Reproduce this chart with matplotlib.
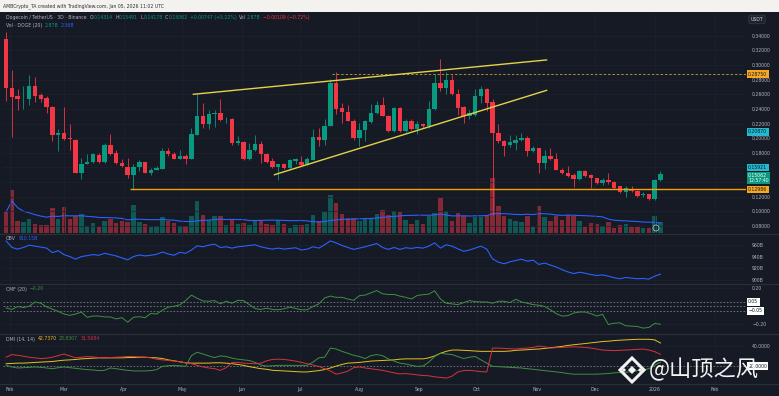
import matplotlib
matplotlib.use('Agg')
import matplotlib.pyplot as plt
import matplotlib.patches as patches
import matplotlib.dates as mdates
import numpy as np
import pandas as pd

# === Data (DOGE/USDT, 3D candles, Binance) ===
opens = [0.336, 0.268, 0.257, 0.253, 0.253, 0.272, 0.259, 0.255, 0.243, 0.204,
         0.207, 0.200, 0.198, 0.153, 0.165, 0.167, 0.177, 0.167, 0.190, 0.180,
         0.166, 0.161, 0.149, 0.160, 0.167, 0.153, 0.156, 0.158, 0.183, 0.179,
         0.172, 0.176, 0.172, 0.205, 0.231, 0.219, 0.233, 0.235, 0.226, 0.226,
         0.193, 0.195, 0.171, 0.184, 0.192, 0.178, 0.169, 0.161, 0.164, 0.159,
         0.169, 0.168, 0.164, 0.170, 0.201, 0.197, 0.217, 0.275, 0.241, 0.236,
         0.224, 0.200, 0.211, 0.222, 0.234, 0.245, 0.231, 0.210, 0.241, 0.210,
         0.224, 0.213, 0.220, 0.216, 0.240, 0.276, 0.268, 0.279, 0.261, 0.242,
         0.230, 0.232, 0.258, 0.267, 0.249, 0.207, 0.196, 0.190, 0.194, 0.197,
         0.200, 0.183, 0.186, 0.166, 0.176, 0.172, 0.157, 0.152, 0.149, 0.144,
         0.155, 0.149, 0.145, 0.139, 0.143, 0.140, 0.134, 0.126, 0.131, 0.128,
         0.122, 0.123, 0.117, 0.14314]
highs = [0.345, 0.293, 0.267, 0.271, 0.287, 0.284, 0.262, 0.257, 0.244, 0.212,
         0.242, 0.220, 0.199, 0.173, 0.178, 0.180, 0.180, 0.193, 0.206, 0.184,
         0.171, 0.173, 0.165, 0.170, 0.168, 0.159, 0.162, 0.187, 0.187, 0.181,
         0.184, 0.178, 0.214, 0.260, 0.248, 0.238, 0.238, 0.254, 0.229, 0.227,
         0.203, 0.196, 0.194, 0.205, 0.196, 0.180, 0.173, 0.165, 0.166, 0.172,
         0.173, 0.175, 0.174, 0.213, 0.214, 0.226, 0.281, 0.290, 0.248, 0.246,
         0.226, 0.221, 0.225, 0.247, 0.251, 0.256, 0.232, 0.242, 0.242, 0.226,
         0.226, 0.224, 0.221, 0.251, 0.288, 0.308, 0.290, 0.287, 0.267, 0.244,
         0.238, 0.267, 0.271, 0.269, 0.254, 0.219, 0.198, 0.205, 0.205, 0.207,
         0.203, 0.189, 0.187, 0.184, 0.187, 0.180, 0.159, 0.162, 0.152, 0.156,
         0.157, 0.151, 0.146, 0.146, 0.153, 0.141, 0.134, 0.134, 0.134, 0.129,
         0.126, 0.124, 0.144, 0.15491]
lows = [0.251, 0.202, 0.239, 0.240, 0.246, 0.249, 0.249, 0.235, 0.196, 0.182,
        0.198, 0.184, 0.152, 0.144, 0.164, 0.166, 0.166, 0.166, 0.177, 0.164,
        0.160, 0.146, 0.1295, 0.155, 0.152, 0.150, 0.156, 0.158, 0.175, 0.171,
        0.171, 0.164, 0.171, 0.204, 0.214, 0.212, 0.215, 0.224, 0.221, 0.191,
        0.191, 0.170, 0.170, 0.182, 0.166, 0.166, 0.159, 0.143, 0.158, 0.158,
        0.164, 0.162, 0.163, 0.170, 0.189, 0.190, 0.217, 0.233, 0.221, 0.223,
        0.198, 0.189, 0.196, 0.221, 0.233, 0.230, 0.208, 0.208, 0.208, 0.208,
        0.211, 0.206, 0.214, 0.214, 0.239, 0.265, 0.260, 0.259, 0.232, 0.221,
        0.226, 0.231, 0.248, 0.237, 0.095, 0.194, 0.176, 0.188, 0.184, 0.196,
        0.176, 0.181, 0.152, 0.158, 0.170, 0.156, 0.151, 0.147, 0.133, 0.143,
        0.147, 0.132, 0.138, 0.136, 0.138, 0.131, 0.125, 0.120, 0.127, 0.120,
        0.120, 0.116, 0.116, 0.14178]
closes = [0.268, 0.256, 0.253, 0.254, 0.272, 0.258, 0.254, 0.243, 0.204, 0.207,
          0.199, 0.199, 0.153, 0.165, 0.168, 0.178, 0.167, 0.191, 0.179, 0.166,
          0.162, 0.149, 0.160, 0.167, 0.153, 0.157, 0.159, 0.183, 0.178, 0.172,
          0.176, 0.172, 0.206, 0.231, 0.220, 0.233, 0.235, 0.225, 0.226, 0.193,
          0.196, 0.171, 0.184, 0.192, 0.178, 0.168, 0.161, 0.164, 0.159, 0.170,
          0.172, 0.163, 0.171, 0.201, 0.197, 0.217, 0.275, 0.240, 0.236, 0.224,
          0.200, 0.211, 0.223, 0.234, 0.245, 0.231, 0.210, 0.241, 0.210, 0.224,
          0.213, 0.220, 0.216, 0.240, 0.276, 0.268, 0.279, 0.261, 0.241, 0.230,
          0.234, 0.258, 0.267, 0.248, 0.207, 0.196, 0.189, 0.195, 0.198, 0.200,
          0.183, 0.186, 0.166, 0.176, 0.172, 0.157, 0.152, 0.148, 0.144, 0.155,
          0.148, 0.145, 0.139, 0.143, 0.140, 0.132, 0.126, 0.132, 0.128, 0.121,
          0.123, 0.117, 0.143, 0.15062]
# volume in billions of DOGE
volumes = [5.5, 11.1, 3.2, 2.8, 3.7, 2.3, 2.2, 2.2, 6.4, 3.7,
           6.8, 3.7, 4.5, 5.0, 1.9, 2.6, 1.5, 3.0, 3.7, 2.6,
           3.2, 2.8, 7.2, 2.8, 2.3, 1.5, 1.7, 4.2, 3.2, 2.6,
           1.9, 1.7, 4.5, 8.4, 4.8, 3.5, 4.5, 4.5, 2.2, 3.5,
           2.3, 2.6, 2.2, 3.0, 3.0, 2.3, 2.2, 3.5, 2.3, 1.3,
           2.2, 2.2, 2.3, 4.8, 3.2, 5.4, 10.0, 7.7, 5.0, 3.9,
           3.9, 3.2, 3.7, 3.7, 5.0, 5.9, 4.8, 5.7, 5.4, 3.5,
           2.4, 3.3, 2.3, 4.5, 5.2, 9.0, 5.7, 3.0, 5.2, 4.4,
           2.6, 4.1, 4.1, 4.6, 14.4, 7.0, 4.4, 3.7, 3.2, 2.8,
           4.4, 1.5, 7.0, 4.1, 3.2, 4.5, 3.5, 4.6, 4.5, 3.0,
           1.5, 2.6, 2.3, 1.7, 2.8, 1.3, 2.2, 2.3, 1.5, 1.5,
           1.3, 1.3, 4.4, 2.87]
obv = [966.6, 955.5, 952.7, 955.5, 959.4, 957.7, 956.1, 954.4, 946.6, 950.0,
       943.3, 940.0, 935.5, 940.0, 941.6, 943.3, 942.2, 945.5, 943.3, 941.1,
       937.7, 934.4, 940.0, 942.7, 941.1, 942.2, 943.9, 947.7, 944.4, 942.2,
       947.2, 945.5, 951.1, 958.3, 956.6, 959.4, 961.1, 955.5, 956.6, 954.4,
       956.6, 957.7, 958.9, 960.0, 956.6, 954.4, 952.7, 954.4, 952.7, 953.9,
       955.0, 951.1, 952.7, 956.6, 954.4, 960.0, 966.6, 963.3, 958.9, 955.5,
       952.2, 954.4, 956.6, 959.4, 962.2, 955.5, 952.2, 955.5, 952.2, 955.0,
       953.9, 955.5, 954.4, 957.7, 963.3, 954.4, 960.0, 957.7, 953.3, 948.9,
       951.1, 954.4, 957.7, 952.7, 936.1, 930.5, 927.7, 931.1, 933.3, 935.5,
       932.2, 933.9, 926.6, 928.9, 925.5, 922.2, 917.7, 913.9, 911.1, 913.3,
       911.6, 909.4, 907.7, 908.9, 906.6, 903.9, 902.2, 904.4, 903.3, 902.2,
       902.7, 901.6, 906.6, 910.15]
cmf = [-0.017, -0.035, -0.002, -0.013, 0.001, 0.048, 0.034, -0.006, -0.031, -0.056,
       -0.085, -0.099, -0.085, -0.063, -0.121, -0.107, -0.107, -0.117, -0.117, -0.139,
       -0.125, -0.175, -0.121, -0.114, -0.125, -0.078, -0.085, -0.042, -0.009, 0.001,
       0.016, 0.063, 0.124, 0.088, 0.059, 0.056, 0.063, 0.027, 0.056, 0.034,
       0.066, 0.063, 0.019, -0.024, -0.035, -0.020, -0.035, -0.038, -0.027, -0.009,
       -0.024, -0.038, -0.038, -0.002, 0.027, 0.092, 0.113, 0.099, 0.099, 0.081,
       0.066, 0.117, 0.124, 0.149, 0.174, 0.138, 0.131, 0.131, 0.113, 0.099,
       0.081, 0.120, 0.128, 0.135, 0.171, 0.081, 0.034, 0.027, 0.019, 0.041,
       0.063, 0.052, 0.048, 0.048, 0.034, 0.056, 0.056, 0.041, 0.077, 0.048,
       0.034, 0.019, 0.012, -0.002, -0.038, -0.081, -0.107, -0.103, -0.074, -0.063,
       -0.063, -0.081, -0.107, -0.088, -0.200, -0.186, -0.182, -0.215, -0.218, -0.222,
       -0.240, -0.233, -0.189, -0.197]
adx = [22.3, 22.6, 22.9, 22.9, 23.2, 23.6, 23.9, 24.2, 24.5, 25.2,
       25.8, 26.1, 26.5, 27.1, 27.4, 27.8, 28.1, 28.1, 28.1, 28.1,
       28.1, 28.4, 28.4, 28.7, 28.7, 28.4, 28.1, 27.4, 26.1, 25.2,
       24.2, 23.2, 22.9, 22.9, 22.9, 22.9, 23.2, 23.2, 22.9, 22.3,
       21.6, 20.7, 19.4, 18.4, 17.4, 16.8, 15.8, 15.5, 15.2, 14.9,
       14.5, 14.2, 14.2, 14.9, 15.5, 16.5, 18.1, 20.0, 21.6, 22.9,
       23.2, 23.6, 24.2, 24.9, 25.2, 25.5, 25.8, 26.1, 26.8, 27.1,
       27.1, 27.1, 27.1, 28.1, 30.0, 32.6, 34.5, 35.8, 35.8, 35.5,
       35.2, 34.8, 34.5, 34.5, 34.5, 34.5, 34.5, 34.8, 35.5, 35.8,
       36.1, 36.5, 36.8, 37.4, 38.1, 38.7, 39.4, 40.3, 41.0, 41.6,
       42.2, 42.9, 43.5, 44.2, 44.5, 45.1, 45.5, 45.8, 46.1, 46.4,
       46.4, 46.4, 45.8, 42.74]
plus_di = [20.7, 19.1, 18.1, 18.4, 18.7, 19.1, 18.7, 18.1, 17.4, 18.4,
           19.1, 18.4, 17.8, 17.1, 16.5, 16.2, 15.5, 15.8, 18.1, 17.4,
           16.5, 15.8, 15.2, 15.2, 15.2, 15.5, 16.5, 19.7, 20.3, 20.7,
           20.3, 19.7, 30.3, 33.6, 31.9, 30.0, 28.4, 30.0, 29.4, 27.8,
           26.8, 26.1, 25.5, 23.6, 21.0, 20.0, 20.3, 20.7, 20.7, 20.7,
           20.7, 20.7, 20.7, 23.9, 28.1, 28.7, 37.7, 36.8, 34.5, 32.6,
           30.6, 29.4, 27.4, 30.3, 31.3, 30.3, 27.1, 24.9, 22.9, 22.0,
           20.7, 19.7, 20.0, 23.9, 29.4, 32.6, 31.9, 31.3, 29.4, 27.4,
           28.7, 29.4, 26.1, 22.9, 19.7, 19.4, 19.1, 18.7, 18.4, 18.1,
           17.4, 16.8, 16.2, 15.5, 14.9, 14.2, 13.6, 12.6, 12.0, 12.0,
           12.0, 12.0, 12.0, 12.3, 12.6, 13.3, 13.6, 13.9, 14.5, 15.5,
           16.2, 17.4, 20.9, 23.83]
minus_di = [28.7, 31.3, 30.6, 29.7, 28.7, 28.1, 27.4, 27.8, 28.7, 30.3,
            31.9, 30.0, 28.1, 28.7, 29.4, 29.0, 28.4, 28.1, 28.4, 28.7,
            29.0, 29.4, 29.4, 29.0, 28.7, 28.1, 26.8, 26.1, 25.5, 24.9,
            24.2, 23.2, 22.3, 20.7, 19.1, 18.1, 17.4, 15.8, 18.4, 23.6,
            23.6, 22.9, 22.6, 22.3, 22.9, 25.2, 26.5, 26.8, 26.5, 25.8,
            24.9, 23.6, 22.3, 21.0, 19.7, 17.4, 15.2, 12.0, 13.3, 14.9,
            18.4, 19.1, 18.1, 17.4, 16.5, 15.8, 14.5, 13.3, 12.3, 12.6,
            12.0, 11.3, 10.7, 10.4, 9.4, 8.8, 8.1, 10.0, 14.2, 15.5,
            15.8, 15.2, 14.5, 14.2, 37.7, 37.7, 37.4, 37.1, 36.8, 37.4,
            37.7, 38.4, 39.7, 39.0, 37.7, 38.1, 38.4, 38.7, 39.0, 38.7,
            38.4, 37.7, 36.8, 35.8, 35.5, 35.2, 35.5, 35.8, 36.1, 36.5,
            36.8, 35.8, 34.2, 31.57]

# drawn levels / trend lines
support_level = 0.12986
support_start = '2025-04-04'
resist_level = 0.28750
resist_start = '2025-07-18'
upper_trend_dates = ['2025-05-07', '2025-11-06']
upper_trend_prices = [0.260, 0.307]
lower_trend_dates = ['2025-06-18', '2025-11-06']
lower_trend_prices = [0.150, 0.2654]

price_ticks = [0.08, 0.10, 0.12, 0.14, 0.16, 0.18, 0.20, 0.22, 0.24, 0.26, 0.28, 0.30, 0.32, 0.34]
hidden_ticks = [0.14, 0.16]   # covered by the price tags on the scale
month_starts = pd.date_range('2025-02-01', '2026-02-01', freq='MS')
month_labels = ['Feb', 'Mar', 'Apr', 'May', 'Jun', 'Jul', 'Aug', 'Sep',
                'Oct', 'Nov', 'Dec', '2026', 'Feb']

# === Style ===
W, H = 779, 396
BG = '#161a25'
GRID = '#1e2230'
TXT = '#b2b5be'
UP = '#089981'
DN = '#f23645'
FS = 3.3

def rect(x0, y0, x1, y1):
    return [x0 / W, 1 - y1 / H, (x1 - x0) / W, (y1 - y0) / H]

fig = plt.figure(figsize=(W / 100, H / 100), dpi=100, facecolor=BG)

ax = fig.add_axes(rect(3, 13, 746, 233), zorder=2)
vax = fig.add_axes(rect(3, 13, 746, 233), sharex=ax, zorder=1)
obv_ax = fig.add_axes(rect(3, 235, 746, 283), sharex=ax)
cmf_ax = fig.add_axes(rect(3, 284, 746, 333), sharex=ax)
dmi_ax = fig.add_axes(rect(3, 334, 746, 383), sharex=ax)

dates = pd.date_range(end='2026-01-04', periods=len(opens), freq='3D')
x = mdates.date2num(dates)
o, h, l, c = map(np.array, (opens, highs, lows, closes))
up = c >= o
cols = np.where(up, UP, DN)

# === Price panel ===
ax.patch.set_visible(False)
ax.vlines(x, l, h, colors=cols, lw=0.6, zorder=3)
body = np.maximum(np.abs(c - o), 0.0008)
ax.bar(x, body, bottom=np.minimum(o, c), width=2.3, color=cols, zorder=4)

ax.hlines(support_level, mdates.datestr2num(support_start), mdates.datestr2num('2026-03-01'),
          color='#f59f00', lw=1.0, zorder=5)
ax.hlines(resist_level, mdates.datestr2num(resist_start), mdates.datestr2num('2026-03-01'),
          color='#a8923a', lw=0.7, ls=(0, (2.5, 2)), zorder=5)
ax.plot(mdates.datestr2num(upper_trend_dates), upper_trend_prices, color='#e2d34a', lw=1.0, zorder=5)
ax.plot(mdates.datestr2num(lower_trend_dates), lower_trend_prices, color='#e2d34a', lw=1.0, zorder=5)

x_left = mdates.date2num(pd.Timestamp('2025-02-01') - pd.Timedelta(days=3.6))
x_right = mdates.date2num(pd.Timestamp('2025-02-01') + pd.Timedelta(days=381.3))
ax.set_xlim(x_left, x_right)
ax.set_ylim(0.0703, 0.3712)
ax.yaxis.tick_right()
ax.set_yticks(price_ticks)
ax.set_yticklabels(['' if any(abs(p - q) < 1e-9 for q in hidden_ticks) else f'{p:.5f}'
                    for p in price_ticks])

# volume underlay
vax.bar(x, volumes, width=2.3, color=cols, alpha=0.5)
vol_ma = pd.Series(volumes).rolling(20, min_periods=1).mean()
vax.plot(x, vol_ma, color='#2962ff', lw=0.8)
vax.set_ylim(0, 57.3)
vax.axis('off')

# === Indicator panels ===
obv_ax.plot(x, obv, color='#2962ff', lw=0.8)
obv_ax.set_ylim(895, 976.7)
obv_ax.yaxis.tick_right()
obv_ax.set_yticks([900, 920, 940, 960])
obv_ax.set_yticklabels(['900B', '920B', '940B', '960B'])

for lvl in (0.05, 0.0, -0.05):
    cmf_ax.axhline(lvl, color='#787b86', lw=0.6, ls=(0, (2, 2)))
cmf_ax.plot(x, cmf, color='#3f9142', lw=0.7)
cmf_ax.set_ylim(-0.294, 0.246)
cmf_ax.yaxis.tick_right()
cmf_ax.set_yticks([-0.2, 0.2])
cmf_ax.set_yticklabels(['\u22120.20', '0.20'])

dmi_ax.axhline(20, color='#787b86', lw=0.6, ls=(0, (2, 2)))
dmi_ax.plot(x, adx, color='#e8c31f', lw=0.7)
dmi_ax.plot(x, plus_di, color='#3f9142', lw=0.7)
dmi_ax.plot(x, minus_di, color='#d8343c', lw=0.7)
dmi_ax.set_ylim(3.3, 51.6)
dmi_ax.yaxis.tick_right()
dmi_ax.set_yticks([40])
dmi_ax.set_yticklabels(['40.0000'])

for a in (ax, obv_ax, cmf_ax, dmi_ax):
    a.set_facecolor(BG)
    for s in a.spines.values():
        s.set_visible(False)
    a.set_xticks(mdates.date2num(month_starts))
    a.grid(True, color=GRID, lw=0.5)
    a.tick_params(axis='y', labelsize=FS, colors=TXT, length=0, pad=4.5)
    a.tick_params(axis='x', length=0, labelbottom=False)
dmi_ax.set_xticklabels(month_labels)
dmi_ax.tick_params(axis='x', labelbottom=True, labelsize=FS, colors=TXT, pad=3)

# === Price-scale tags ===
def tag(a, y, text, fc, tc, ec='none'):
    a.text(1.003, y, text, transform=a.get_yaxis_transform(), ha='left', va='center',
           fontsize=FS, color=tc, clip_on=False, zorder=10, linespacing=1.0,
           bbox=dict(boxstyle='square,pad=0.3', fc=fc, ec=ec, lw=0.4))

tag(ax, resist_level, '0.28750', '#f5a623', '#131722')
tag(ax, 0.2087, '0.20870', '#22b8cf', '#131722')
tag(ax, 0.1600, '0.15921', '#22b8cf', '#131722')
tag(ax, 0.1455, '0.15062\n12:57:40', UP, '#ffffff')
tag(ax, support_level, '0.12986', '#f5a623', '#131722')
tag(cmf_ax, 0.05, '0.05', '#ffffff', '#131722')
tag(cmf_ax, -0.05, '\u22120.05', '#ffffff', '#131722')
tag(dmi_ax, 20, '20.0000', '#ffffff', '#131722')

# === Overlay: frame, legends, watermark ===
ov = fig.add_axes([0, 0, 1, 1], zorder=20)
ov.set_xlim(0, W)
ov.set_ylim(H, 0)
ov.axis('off')
renderer = fig.canvas.get_renderer()

ov.add_patch(patches.Rectangle((0, 0), W, 12, fc='#f4f2ee', ec='none'))
ov.text(3, 6, 'AMBCrypto_TA created with TradingView.com, Jan 05, 2026 11:02 UTC',
        fontsize=FS, color='#2a2e39', va='center')
for yy in (234, 283.5, 333.5, 383.5):
    ov.plot([0, W], [yy, yy], color='#2a2e39', lw=0.9)

ov.text(757, 19.5, 'USDT', fontsize=FS, color='#d1d4dc', ha='center', va='center',
        bbox=dict(boxstyle='round,pad=0.4', fc='#1e222d', ec='#434651', lw=0.4))

def legend_row(y, x0, pieces):
    # pieces: (text, colour, gap after in px); placed one after another
    px = x0
    for s, col, gap in pieces:
        t = ov.text(px, y, s, fontsize=FS, color=col, va='center')
        px += t.get_window_extent(renderer=renderer).width + gap

legend_row(17.5, 6, [('Dogecoin / TetherUS \u00b7 3D \u00b7 Binance', TXT, 3),
                     ('O', TXT, 0.3), ('0.14314', UP, 2.5),
                     ('H', TXT, 0.3), ('0.15491', UP, 2.5),
                     ('L', TXT, 0.3), ('0.14178', UP, 2.5),
                     ('C', TXT, 0.3), ('0.15062', UP, 2.5),
                     ('+0.00747 (+5.22%)', UP, 2.5),
                     ('Vol', TXT, 0.5), ('2.87B', UP, 2.5),
                     ('\u22120.00109 (\u22120.72%)', DN, 0)])
legend_row(25.3, 6, [('Vol \u00b7 DOGE (20)', TXT, 2.5), ('2.87B', UP, 2.5), ('2.36B', '#2962ff', 0)])
legend_row(239, 6, [('OBV', TXT, 2.5), ('910.15B', '#2962ff', 0)])
legend_row(289, 6, [('CMF (20)', TXT, 2.5), ('\u22120.20', '#3f9142', 0)])
legend_row(339, 6, [('DMI (14, 14)', TXT, 2.5), ('42.7370', '#e8c31f', 2.5),
                    ('23.8307', '#3f9142', 2.5), ('31.5684', '#d8343c', 0)])

ov.add_patch(patches.Circle((656, 228), 3, fc='none', ec='#b2b5be', lw=0.6))

# watermark with Binance-style mark
WM = '#f2f2f2'
ov.add_patch(patches.RegularPolygon((632, 370), 4, radius=12, orientation=0,
                                    fc='none', ec=WM, lw=2.2))
ov.add_patch(patches.RegularPolygon((632, 370), 4, radius=4, orientation=0, fc=WM, ec='none'))
ov.add_patch(patches.RegularPolygon((624, 370), 4, radius=2, orientation=0, fc=WM, ec='none'))
ov.add_patch(patches.RegularPolygon((640, 370), 4, radius=2, orientation=0, fc=WM, ec='none'))
ov.text(649, 370, '@\u5c71\u9876\u4e4b\u98ce', fontsize=16, color=WM, va='center', ha='left',
        family=['Noto Sans CJK SC', 'DejaVu Sans'])

fig.savefig('out.png', dpi=100, facecolor=BG)
